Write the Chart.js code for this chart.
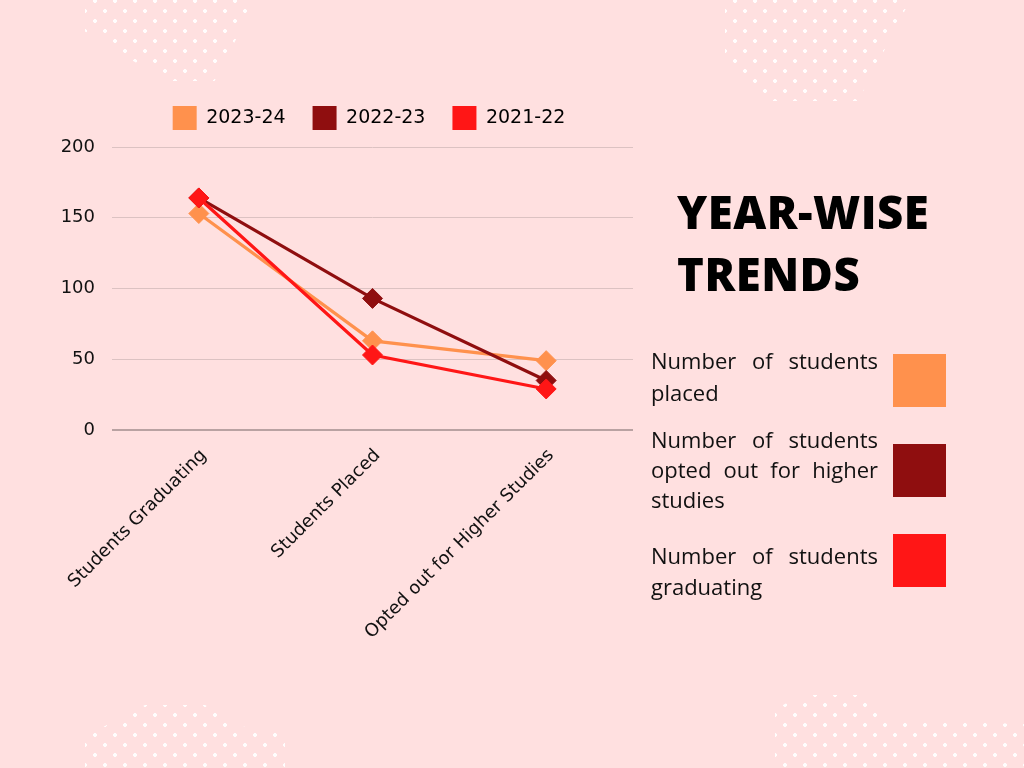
<!DOCTYPE html>
<html>
<head>
<meta charset="utf-8">
<script src="https://cdn.jsdelivr.net/npm/chart.js@4/dist/chart.umd.min.js"></script>
<style>
  html, body { margin: 0; padding: 0; }
  body { width: 1024px; height: 768px; background: #FFE0E0; position: relative; overflow: hidden; font-family: "Open Sans", sans-serif; }
  .dots { position: absolute;
    background-image: radial-gradient(circle, rgba(255,255,255,0.95) 1.6px, transparent 2.2px), radial-gradient(circle, rgba(255,255,255,0.95) 1.6px, transparent 2.2px);
    background-size: 20px 20px, 20px 20px; background-position: 0 0, 10px 10px; }
  #chartWrap { position: absolute; left: 40px; top: 79px; width: 660px; height: 620px; }
  #title { position: absolute; left: 677px; top: 180px; font-family: "Open Sans", sans-serif; font-weight: 800; font-size: 45.5px; line-height: 62px; color: #000; letter-spacing: 0.5px; }
  .item { position: absolute; left: 651px; width: 227px; font-family: "Open Sans", sans-serif; font-size: 22px; color: #111; text-align: justify; text-align-last: left; }
  .sw { position: absolute; left: 893px; width: 53px; height: 53px; }
</style>
</head>
<body>
<div class="dots" style="left:85px;top:-9px;width:162px;height:90px;clip-path:polygon(0 0,100% 0,100% 30%,80% 100%,50% 100%,0 45%);"></div>
<div class="dots" style="left:725px;top:-9px;width:190px;height:110px;clip-path:polygon(0 0,100% 0,70% 100%,20% 100%,0 60%);"></div>
<div class="dots" style="left:85px;top:705px;width:200px;height:63px;clip-path:polygon(30% 0,60% 0,80% 35%,100% 35%,100% 100%,0 100%,0 50%);"></div>
<div class="dots" style="left:775px;top:695px;width:260px;height:73px;clip-path:polygon(10% 0,35% 0,45% 35%,100% 40%,100% 100%,0 100%,0 20%);"></div>

<div id="chartWrap"><canvas id="c" width="660" height="620"></canvas></div>

<div id="title">YEAR-WISE<br>TRENDS</div>

<div class="item" style="top:344px;line-height:32px;">Number of students placed</div>
<div class="sw" style="top:354px;background:#FF914D;"></div>
<div class="item" style="top:424px;line-height:30px;">Number of students opted out for higher studies</div>
<div class="sw" style="top:444px;background:#8F0E0F;"></div>
<div class="item" style="top:540px;line-height:31px;">Number of students graduating</div>
<div class="sw" style="top:534px;background:#FF1616;"></div>

<script>
const categories = ["Students Graduating", "Students Placed", "Opted out for Higher Studies"];
const seriesNames = ["2023-24", "2022-23", "2021-22"];
const values2023_24 = [153, 63, 49];
const values2022_23 = [164, 93, 35];
const values2021_22 = [164, 53, 29];
const yTicks = [0, 50, 100, 150, 200];

const colors = ["#FF914D", "#8F0E0F", "#FF1616"];
const allValues = [values2023_24, values2022_23, values2021_22];
const orders = [3, 2, 1];

const datasets = seriesNames.map((name, i) => ({
  label: name,
  data: allValues[i],
  xAxisID: 'x',
  yAxisID: 'y',
  borderColor: colors[i],
  backgroundColor: colors[i],
  borderWidth: 3.2,
  pointStyle: 'rectRot',
  pointRadius: 10,
  pointHoverRadius: 10,
  pointBorderWidth: 1,
  tension: 0,
  order: orders[i]
}));

new Chart(document.getElementById('c'), {
  type: 'line',
  data: { labels: categories, datasets },
  options: {
    responsive: false,
    devicePixelRatio: 1,
    animation: false,
    layout: { padding: { left: 0, right: 2, top: 0, bottom: 0 } },
    plugins: {
      tooltip: { enabled: false },
      legend: {
        position: 'top',
        labels: {
          sort: (a, b) => a.datasetIndex - b.datasetIndex,
          boxWidth: 24, boxHeight: 24, padding: 27,
          color: '#111',
          font: { family: 'DejaVu Sans', size: 19 },
          generateLabels: (chart) => chart.data.datasets.map((d, i) => ({
            text: d.label, fillStyle: d.backgroundColor, strokeStyle: d.backgroundColor,
            lineWidth: 0, datasetIndex: i, hidden: false
          }))
        }
      }
    },
    scales: {
      x: {
        offset: true,
        grid: { display: false },
        border: { display: false },
        ticks: { minRotation: 45, maxRotation: 45, labelOffset: 5, color: '#111', font: { family: 'DejaVu Sans', size: 18 }, padding: 7 },
        afterFit: (a) => { a.height = 269; }
      },
      y: {
        min: 0, max: 200,
        afterBuildTicks: (axis) => { axis.ticks = yTicks.map(v => ({ value: v })); },
        afterFit: (a) => { a.width = 72; },
        grid: {
          drawTicks: false,
          color: (ctx) => ctx.tick && ctx.tick.value === 0 ? '#b9a2a2' : '#dcc2c2',
          lineWidth: (ctx) => ctx.tick && ctx.tick.value === 0 ? 2 : 1
        },
        border: { display: false },
        ticks: { color: '#111', font: { family: 'DejaVu Sans', size: 18 }, padding: 17 }
      },
      xTop: {
        type: 'category', position: 'top',
        grid: { display: false }, border: { display: false },
        ticks: { display: false },
        afterFit: (a) => { a.height = 7; }
      },
      yRight: {
        type: 'linear', position: 'right',
        grid: { display: false }, border: { display: false },
        ticks: { display: false },
        afterFit: (a) => { a.width = 65; }
      }
    }
  }
});
</script>
</body>
</html>
